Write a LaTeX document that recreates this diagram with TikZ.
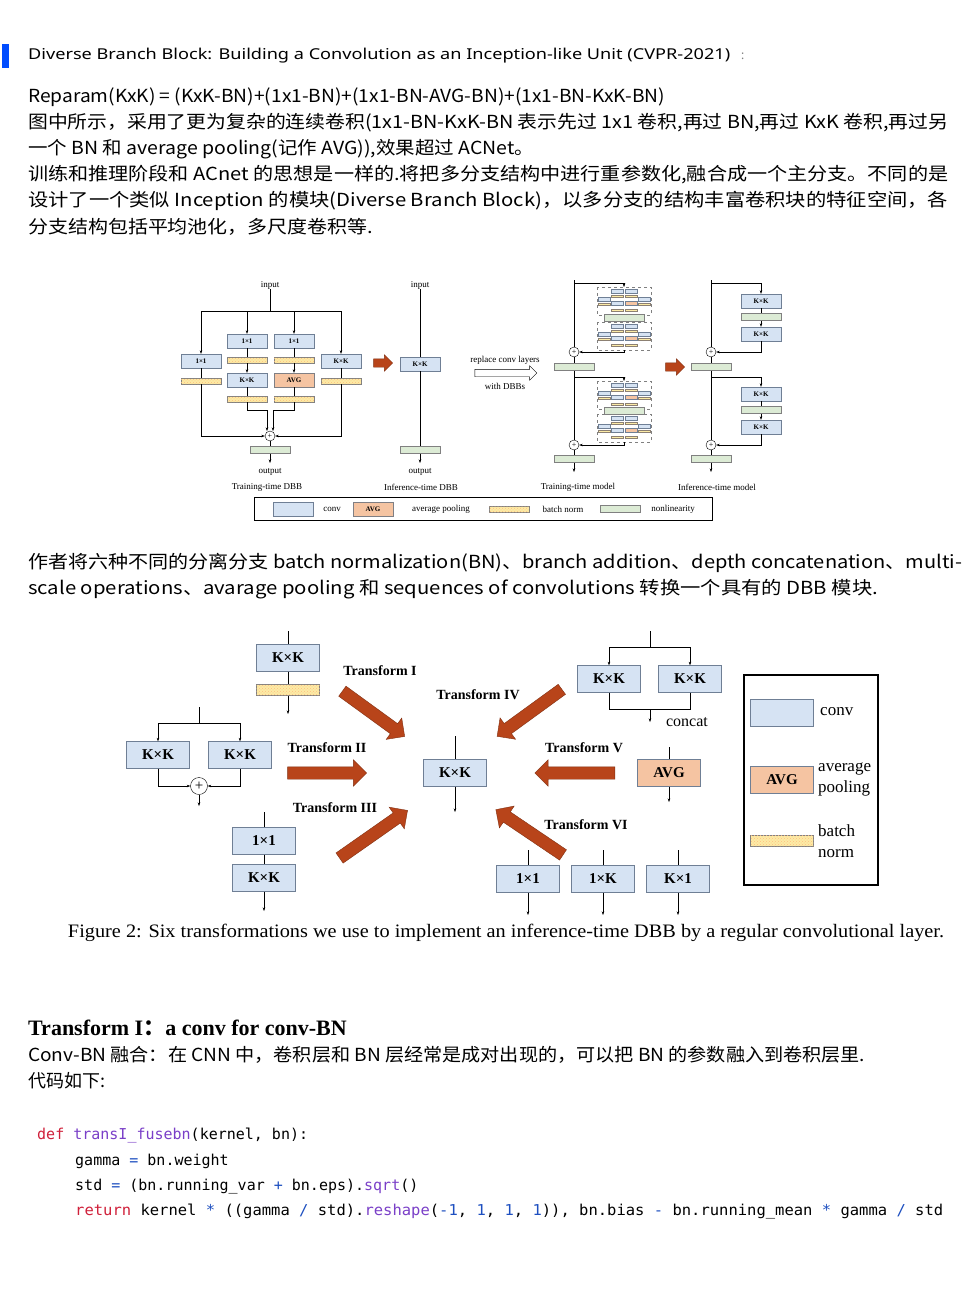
\documentclass[tikz,border=0pt]{standalone}
\usepackage{fontspec}
\setmainfont{Liberation Serif}
\newfontfamily\cjk{Noto Sans CJK SC}
\newfontfamily\codefont{DejaVu Sans Mono}
\newfontfamily\titlefont{Noto Sans}
\usetikzlibrary{%
		shapes.arrows%
		,patterns%
		,arrows.meta%
	}
\definecolor{convfill}{HTML}{D6E3F3}
\definecolor{convline}{HTML}{6F7F95}
\definecolor{avgfill}{HTML}{F5C4A2}
\definecolor{bnfill}{HTML}{FCEBA6}
\definecolor{nlfill}{HTML}{DCEBD5}
\definecolor{rust}{HTML}{B8441A}
\definecolor{kwred}{HTML}{D0203A}
\definecolor{fnpurple}{HTML}{7A3FC8}
\definecolor{numblue}{HTML}{1D4FC0}
\tikzset{
	conv/.style={draw=convline, fill=convfill, minimum width=40, minimum height=14, inner sep=0, font=\bfseries\fontsize{7}{7}\selectfont},
	avg/.style={conv, fill=avgfill, draw=convline!80!brown},
	bn/.style={draw=gray, fill=bnfill, postaction={pattern=crosshatch dots, pattern color=orange!50}, minimum width=40, minimum height=6, inner sep=0},
	nl/.style={draw=gray, fill=nlfill, minimum width=40, minimum height=7, inner sep=0},
	add/.style={draw, fill=white, circle, inner sep=0, minimum size=10, font=\fontsize{8}{8}\selectfont},
	small/.style={font=\fontsize{9}{10}\selectfont, inner sep=0},
	bigconv/.style={conv, minimum width=63, minimum height=27, font=\bfseries\fontsize{15}{15}\selectfont},
	bigavg/.style={bigconv, fill=avgfill},
	bigbn/.style={bn, minimum width=63, minimum height=11},
	tlabel/.style={font=\bfseries\fontsize{14}{14}\selectfont, inner sep=0},
	fat/.style={single arrow, draw=rust!70!black, fill=rust, inner xsep=0, inner ysep=6, single arrow head extend=7, single arrow head indent=0},
	redtip/.style={single arrow, draw=rust!70!black, fill=rust, inner xsep=0, inner ysep=4, minimum height=19, single arrow head extend=4},
	txt/.style={anchor=west, inner sep=0, font=\cjk\fontsize{18}{18}\selectfont},
	code/.style={anchor=west, inner sep=0, font=\codefont\fontsize{15}{15}\selectfont},
	>={Stealth[length=3.5pt, width=2.5pt]}
}
% a tiny training-time block inside a dashed frame
\newcommand\minidbb[2]{%
	\begin{scope}[shift={(#1,#2)}]
		\draw[dashed, gray] (-27,-14) rectangle (27,14);
		\foreach \cx in {-7,7} {
			\filldraw[fill=convfill, draw=convline] (\cx-6,-12) rectangle (\cx+6,-8);
			\filldraw[fill=bnfill, draw=gray!80!brown] (\cx-6,-6) rectangle (\cx+6,-4);
			\filldraw[fill=bnfill, draw=gray!80!brown] (\cx-6,8) rectangle (\cx+6,10);
		}
		\filldraw[fill=convfill, draw=convline] (-13,0) rectangle (-1,4);
		\filldraw[fill=avgfill, draw=convline] (1,0) rectangle (13,4);
		\foreach \cx in {-20,20} {
			\filldraw[fill=convfill, draw=convline] (\cx-6,-4) rectangle (\cx+6,0);
			\filldraw[fill=bnfill, draw=gray!80!brown] (\cx-6,2) rectangle (\cx+6,4);
		}
	\end{scope}}

\begin{document}
\begin{tikzpicture}[x=1pt, y=-1pt]
	\useasboundingbox[fill=white] (0,0) rectangle (964,1296);
	% ---------- text at the top
	\fill[blue!70!cyan] (2,44) rectangle (9,68);
	\node[anchor=west, inner sep=0, font=\titlefont\fontsize{15}{15}\selectfont] (title) at (28,56) {\resizebox{702pt}{\height}{Diverse Branch Block: Building a Convolution as an Inception-like Unit (CVPR-2021)}};
	\node[anchor=west, inner sep=0, font=\titlefont\fontsize{12}{12}\selectfont, gray] (colon) at (741,56) {:};
	\node[txt] (l1) at (28,97) {\resizebox{637pt}{\height}{Reparam(KxK) = (KxK-BN)+(1x1-BN)+(1x1-BN-AVG-BN)+(1x1-BN-KxK-BN)}};
	\node[txt] (l2) at (28,123) {\resizebox{920pt}{\height}{图中所示，采用了更为复杂的连续卷积(1x1-BN-KxK-BN 表示先过 1x1 卷积,再过 BN,再过 KxK 卷积,再过另}};
	\node[txt] (l3) at (28,149) {\resizebox{506pt}{\height}{一个 BN 和 average pooling(记作 AVG)),效果超过 ACNet。}};
	\node[txt] (l4) at (28,175) {\resizebox{920pt}{\height}{训练和推理阶段和 ACnet 的思想是一样的.将把多分支结构中进行重参数化,融合成一个主分支。不同的是}};
	\node[txt] (l5) at (28,201) {\resizebox{920pt}{\height}{设计了一个类似 Inception 的模块(Diverse Branch Block)，以多分支的结构丰富卷积块的特征空间，各}};
	\node[txt] (l6) at (28,227) {\resizebox{345pt}{\height}{分支结构包括平均池化，多尺度卷积等.}};

	% ---------- training-time DBB
	\node[small] (t_in) at (270,285) {input};
	\coordinate (t_sp) at (270,311);
	\node[conv] (t_a) at (201,361) {1×1};
	\node[conv] (t_b1) at (247,341) {1×1};
	\node[conv] (t_c1) at (294,341) {1×1};
	\node[conv] (t_d) at (341,361) {K×K};
	\node[bn] (t_abn) at (201,381) {};
	\node[bn] (t_b1bn) at (247,360) {};
	\node[conv] (t_b2) at (247,380) {K×K};
	\node[bn] (t_b2bn) at (247,399) {};
	\node[bn] (t_c1bn) at (294,360) {};
	\node[avg] (t_c2) at (294,380) {AVG};
	\node[bn] (t_c2bn) at (294,399) {};
	\node[bn] (t_dbn) at (341,381) {};
	\node[add] (t_add) at (270,436) {+};
	\node[nl] (t_nl) at (270,450) {};
	\coordinate (t_out) at (270,463);
	\node[small] (t_outl) at (270,472) {output};
	\node[small] (t_name) at (267,487) {Training-time DBB};
	\draw (t_in) -- (t_sp);
	\draw[->] (t_sp) -| (t_a);
	\draw[->] (t_sp) -| (t_b1);
	\draw[->] (t_sp) -| (t_c1);
	\draw[->] (t_sp) -| (t_d);
	\draw (t_a) -- (t_abn);
	\draw (t_d) -- (t_dbn);
	\draw (t_b1) -- (t_b1bn);
	\draw[->] (t_b1bn) -- (t_b2);
	\draw (t_b2) -- (t_b2bn);
	\draw (t_c1) -- (t_c1bn);
	\draw[->] (t_c1bn) -- (t_c2);
	\draw (t_c2) -- (t_c2bn);
	\draw[->] (t_abn) |- (t_add);
	\draw[->] (t_dbn) |- (t_add);
	\draw[->] (t_b2bn) |- (267,410) -- (267,431);
	\draw[->] (t_c2bn) |- (273,410) -- (273,431);
	\draw (t_add) -- (t_nl);
	\draw[->] (t_nl) -- (t_out);
	\node[redtip] (t_arrow) at (381,363) {};

	% ---------- inference-time DBB
	\node[small] (i_in) at (420,285) {input};
	\node[conv] (i_k) at (420,364) {K×K};
	\node[nl] (i_nl) at (420,450) {};
	\coordinate (i_out) at (420,463);
	\node[small] (i_outl) at (420,472) {output};
	\node[small] (i_name) at (421,487) {Inference-time DBB};
	\draw (i_in) -- (i_k);
	\draw (i_k) -- (i_nl);
	\draw[->] (i_nl) -- (i_out);
	\node[small] (r_top) at (505,360) {replace conv layers};
	\node[single arrow, draw, fill=white, inner xsep=0, inner ysep=3.5, minimum height=62, single arrow head extend=3.5] (r_arrow) at (504,373) {};
	\node[small] (r_bot) at (505,386) {with DBBs};

	% ---------- training-time model
	\coordinate (m_top) at (574,280);
	\node[add] (m_add1) at (574,352) {+};
	\node[nl] (m_nl1) at (574,367) {};
	\node[add] (m_add2) at (574,445) {+};
	\node[nl] (m_nl2) at (574,459) {};
	\coordinate (m_out) at (574,472);
	\coordinate (m_sp1) at (574,283);
	\coordinate (m_sp2) at (574,377);
	\minidbb{624}{301}
	\minidbb{624}{336}
	\minidbb{624}{395}
	\minidbb{624}{428}
	\node[nl] (m_mid1) at (624,318) {};
	\node[nl] (m_mid2) at (624,411) {};
	\node[small] (m_name) at (578,487) {Training-time model};
	\draw (m_top) -- (m_add1);
	\draw (m_add1) -- (m_nl1);
	\draw (m_nl1) -- (m_add2);
	\draw (m_add2) -- (m_nl2);
	\draw[->] (m_nl2) -- (m_out);
	\draw[->] (m_sp1) -- (624,283) -- (624,287);
	\draw[->] (m_sp2) -- (624,377) -- (624,381);
	\draw[->] (624,350) |- (m_add1);
	\draw[->] (624,442) |- (m_add2);
	\node[redtip] (m_arrow) at (673,367) {};

	% ---------- inference-time model
	\coordinate (n_top) at (711,280);
	\node[add] (n_add1) at (711,352) {+};
	\node[nl] (n_nl1) at (711,367) {};
	\node[add] (n_add2) at (711,445) {+};
	\node[nl] (n_nl2) at (711,459) {};
	\coordinate (n_out) at (711,472);
	\coordinate (n_sp1) at (711,283);
	\coordinate (n_sp2) at (711,377);
	\node[conv] (n_k1) at (761,301) {K×K};
	\node[nl] (n_m1) at (761,317) {};
	\node[conv] (n_k2) at (761,334) {K×K};
	\node[conv] (n_k3) at (761,394) {K×K};
	\node[nl] (n_m2) at (761,410) {};
	\node[conv] (n_k4) at (761,427) {K×K};
	\node[small] (n_name) at (717,487) {Inference-time model};
	\draw (n_top) -- (n_add1);
	\draw (n_add1) -- (n_nl1);
	\draw (n_nl1) -- (n_add2);
	\draw (n_add2) -- (n_nl2);
	\draw[->] (n_nl2) -- (n_out);
	\draw[->] (n_sp1) -| (n_k1);
	\draw (n_k1) -- (n_m1);
	\draw[->] (n_m1) -- (n_k2);
	\draw[->] (n_k2) |- (n_add1);
	\draw[->] (n_sp2) -| (n_k3);
	\draw (n_k3) -- (n_m2);
	\draw[->] (n_m2) -- (n_k4);
	\draw[->] (n_k4) |- (n_add2);

	% ---------- legend of the first figure
	\draw (254,497) rectangle (712,520);
	\node[conv] (g_conv) at (293,509) {};
	\node[small] (g_convl) at (332,509) {conv};
	\node[avg] (g_avg) at (373,509) {AVG};
	\node[small] (g_avgl) at (441,509) {average pooling};
	\node[bn] (g_bn) at (509,509) {};
	\node[small] (g_bnl) at (563,509) {batch norm};
	\node[nl] (g_nl) at (620,509) {};
	\node[small] (g_nll) at (673,509) {nonlinearity};

	% ---------- middle text
	\node[txt] (p1) at (28,563) {\resizebox{934pt}{\height}{作者将六种不同的分离分支 batch normalization(BN)、branch addition、depth concatenation、multi-}};
	\node[txt] (p2) at (28,589) {\resizebox{850pt}{\height}{scale operations、avarage pooling 和 sequences of convolutions 转换一个具有的 DBB 模块.}};

	% ---------- six transformations
	\coordinate (x_in) at (288,631);
	\node[bigconv] (x_k) at (288,658) {K×K};
	\node[bigbn] (x_bn) at (288,690) {};
	\coordinate (x_out) at (288,714);
	\draw (x_in) -- (x_k);
	\draw (x_k) -- (x_bn);
	\draw[->] (x_bn) -- (x_out);
	\node[tlabel] (lab1) at (380,671) {Transform I};
	\node[fat, minimum height=77, rotate=-36] (arr1) at (371,712) {};

	\coordinate (y_in) at (199,707);
	\coordinate (y_sp) at (199,723);
	\node[bigconv] (y_k1) at (158,755) {K×K};
	\node[bigconv] (y_k2) at (240,755) {K×K};
	\node[add, minimum size=17, font=\fontsize{15}{15}\selectfont] (y_add) at (199,786) {+};
	\coordinate (y_out) at (199,806);
	\draw (y_in) -- (y_sp);
	\draw[->] (y_sp) -| (y_k1);
	\draw[->] (y_sp) -| (y_k2);
	\draw[->] (y_k1) |- (y_add);
	\draw[->] (y_k2) |- (y_add);
	\draw[->] (y_add) -- (y_out);
	\node[tlabel] (lab2) at (327,748) {Transform II};
	\node[fat, minimum height=79] (arr2) at (324,773) {};

	\coordinate (z_in) at (264,812);
	\node[bigconv] (z_a) at (264,841) {1×1};
	\node[bigconv] (z_b) at (264,878) {K×K};
	\coordinate (z_out) at (264,911);
	\draw (z_in) -- (z_a);
	\draw (z_a) -- (z_b);
	\draw[->] (z_b) -- (z_out);
	\node[tlabel] (lab3) at (335,808) {Transform III};
	\node[fat, minimum height=83, rotate=35] (arr3) at (371,836) {};

	\coordinate (c_in) at (455,736);
	\node[bigconv] (c_k) at (455,773) {K×K};
	\coordinate (c_out) at (455,812);
	\draw (c_in) -- (c_k);
	\draw[->] (c_k) -- (c_out);

	\coordinate (u_in) at (650,631);
	\coordinate (u_sp) at (650,647);
	\node[bigconv] (u_k1) at (609,679) {K×K};
	\node[bigconv] (u_k2) at (690,679) {K×K};
	\coordinate (u_cat) at (650,709);
	\coordinate (u_out) at (650,722);
	\draw (u_in) -- (u_sp);
	\draw[->] (u_sp) -| (u_k1);
	\draw[->] (u_sp) -| (u_k2);
	\draw (u_k1) |- (u_cat);
	\draw (u_k2) |- (u_cat);
	\draw[->] (u_cat) -- (u_out);
	\node[font=\fontsize{16}{16}\selectfont, inner sep=0] (u_lab) at (687,722) {concat};
	\node[tlabel] (lab4) at (478,695) {Transform IV};
	\node[fat, minimum height=80, rotate=-144] (arr4) at (532,711) {};

	\coordinate (v_in) at (669,747);
	\node[bigavg] (v_avg) at (669,773) {AVG};
	\coordinate (v_out) at (669,802);
	\draw (v_in) -- (v_avg);
	\draw[->] (v_avg) -- (v_out);
	\node[tlabel] (lab5) at (584,748) {Transform V};
	\node[fat, minimum height=80, rotate=180] (arr5) at (578,773) {};

	\node[tlabel] (lab6) at (586,825) {Transform VI};
	\node[fat, minimum height=81, rotate=146] (arr6) at (532,834) {};
	\foreach \bx/\bl/\bn in {528/1×1/w1, 603/1×K/w2, 678/K×1/w3} {
		\coordinate (\bn_in) at (\bx,850);
		\node[bigconv] (\bn) at (\bx,879) {\bl};
		\coordinate (\bn_out) at (\bx,915);
		\draw (\bn_in) -- (\bn);
		\draw[->] (\bn) -- (\bn_out);
	}

	% ---------- legend of the second figure
	\draw[line width=2.5pt] (744,675) rectangle (878,885);
	\node[bigconv] (k_conv) at (782,713) {};
	\node[anchor=west, inner sep=0, font=\fontsize{17}{17}\selectfont] (k_convl) at (820,712) {conv};
	\node[bigavg] (k_avg) at (782,780) {AVG};
	\node[anchor=west, inner sep=0, align=left, font=\fontsize{17}{21}\selectfont] (k_avgl) at (818,779) {average\\pooling};
	\node[bigbn] (k_bn) at (782,841) {};
	\node[anchor=west, inner sep=0, align=left, font=\fontsize{17}{21}\selectfont] (k_bnl) at (818,841) {batch\\norm};

	\node[inner sep=0, font=\fontsize{19}{19}\selectfont] (caption) at (506,933) {\resizebox{876pt}{\height}{Figure 2: Six transformations we use to implement an inference-time DBB by a regular convolutional layer.}};

	% ---------- Transform I section
	\node[anchor=west, inner sep=0, font=\bfseries\fontsize{22}{22}\selectfont] (h1) at (28,1028) {Transform I{\cjk ：}a conv for conv-BN};
	\node[txt] (q1) at (28,1055) {\resizebox{837pt}{\height}{Conv-BN 融合：在 CNN 中，卷积层和 BN 层经常是成对出现的，可以把 BN 的参数融入到卷积层里.}};
	\node[txt] (q2) at (28,1081) {代码如下:};

	% ---------- code
	\node[code] (c1) at (37,1136) {\textcolor{kwred}{def} \textcolor{fnpurple}{transI\_fusebn}(kernel, bn):};
	\node[code] (c2) at (75,1161) {gamma \textcolor{numblue}{=} bn.weight};
	\node[code] (c3) at (75,1187) {std \textcolor{numblue}{=} (bn.running\_var \textcolor{numblue}{+} bn.eps).\textcolor{fnpurple}{sqrt}()};
	\node[code] (c4) at (75,1212) {\resizebox{868pt}{\height}{\textcolor{kwred}{return} kernel \textcolor{numblue}{*} ((gamma \textcolor{numblue}{/} std).\textcolor{fnpurple}{reshape}(\textcolor{numblue}{-1}, \textcolor{numblue}{1}, \textcolor{numblue}{1}, \textcolor{numblue}{1})), bn.bias \textcolor{numblue}{-} bn.running\_mean \textcolor{numblue}{*} gamma \textcolor{numblue}{/} std}};
\end{tikzpicture}
\end{document}
